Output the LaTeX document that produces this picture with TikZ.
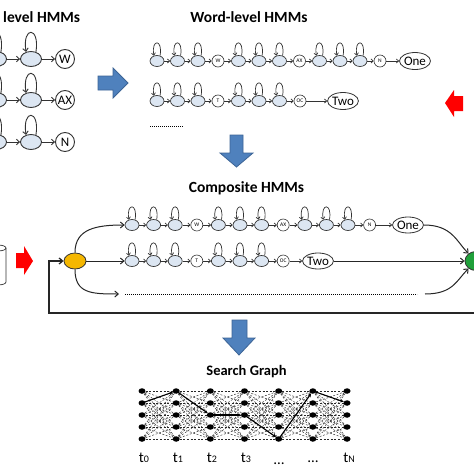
\documentclass[tikz,border=0pt]{standalone}
\usepackage{fontspec}
\setmainfont{Carlito}
\usetikzlibrary{arrows.meta,shapes.geometric}
\definecolor{stfill}{HTML}{DCE6F2}
\definecolor{stline}{HTML}{333333}
\definecolor{bluefill}{HTML}{4F81BD}
\definecolor{blueline}{HTML}{3C6496}
\definecolor{yelfill}{HTML}{F5B700}
\definecolor{grnfill}{HTML}{1FA03A}
\pgfdeclarelayer{bg}
\pgfsetlayers{bg,main}
\newcommand{\tlab}[1]{t\raisebox{-0.6pt}{\fontsize{10}{10}\selectfont #1}}
\begin{document}
\begin{tikzpicture}[x=1pt,y=-1pt,
  st/.style={ellipse,draw=stline,fill=stfill,line width=0.7pt,minimum width=14pt,minimum height=11pt,inner sep=0pt},
  stbig/.style={st,minimum width=21pt,minimum height=15pt,line width=0.9pt},
  ph/.style={circle,draw=stline,fill=white,line width=0.6pt,minimum size=12pt,inner sep=0pt,font=\fontsize{5.5}{5.5}\selectfont},
  phbig/.style={ph,minimum size=19pt,line width=0.9pt,font=\fontsize{13}{13}\selectfont},
  wd/.style={ellipse,draw=stline,fill=white,line width=0.8pt,minimum width=30pt,minimum height=17pt,inner sep=0pt,font=\fontsize{13}{13}\selectfont},
  arr/.style={draw=stline,line width=0.7pt,-{Straight Barb[length=2.2pt,width=4pt]}},
  arrbig/.style={arr,line width=0.9pt,-{Straight Barb[length=3pt,width=5.5pt]}},
  carr/.style={draw=black!85,line width=1pt,-{Straight Barb[length=3.5pt,width=6pt]}},
  dotline/.style={draw=black,line width=1pt,dash pattern=on 0.9pt off 1.1pt},
  title/.style={font=\fontsize{15.5}{15.5}\selectfont\bfseries,inner sep=0pt,anchor=base},
  blk/.style={fill=bluefill,draw=blueline,line width=0.8pt},
  redblk/.style={fill=red,draw=none},
  gdot/.style={ellipse,fill=black,minimum width=7pt,minimum height=5.5pt,inner sep=0pt},
  gdash/.style={draw=black!85,line width=0.45pt,dash pattern=on 2pt off 1.6pt},
  gpath/.style={draw=black,line width=1.1pt,-{Stealth[length=3.5pt,width=3.5pt]}},
  tl/.style={font=\fontsize{15}{15}\selectfont,anchor=base,inner sep=0pt}
]
\useasboundingbox (0,0) rectangle (474,474);
\begin{pgfonlayer}{bg}
\fill[white] (0,0) rectangle (474,474);
\end{pgfonlayer}

% ---------- titles ----------
\node[title,anchor=base west] (t1) at (3,22) {level HMMs};
\node[title] (t2) at (249,22) {Word-level HMMs};
\node[title] (t3) at (246.5,192) {Composite HMMs};
\node[title,font=\fontsize{14.5}{14.5}\selectfont\bfseries] (t4) at (246.5,375) {Search Graph};

% ---------- phone-level HMMs ----------
\foreach \q/\y/\l in {1/59/W,2/100/AX,3/142/N}{
  \node[stbig] (p\q a) at (-4,\y) {};
  \node[stbig] (p\q b) at (31,\y) {};
  \node[phbig] (p\q c) at (65,\y) {\l};
  \draw[arrbig] (p\q a) -- (p\q b);
  \draw[arrbig] (p\q b) -- (p\q c);
  \draw[arrbig] (p\q a.55) .. controls +(4,-26) and +(-4,-26) .. (p\q a.125);
  \draw[arrbig] (p\q b.55) .. controls +(4,-26) and +(-4,-26) .. (p\q b.125);
}

% ---------- block arrows ----------
\draw[blk] (98,76) -- (113,76) -- (113,68) -- (128,83) -- (113,98) -- (113,90) -- (98,90) -- cycle;
\draw[blk] (230,135) -- (243,135) -- (243,153) -- (253,153) -- (236.5,167) -- (220,153) -- (230,153) -- cycle;
\draw[blk] (232,320) -- (247,320) -- (247,338) -- (255,338) -- (239,355) -- (223,338) -- (232,338) -- cycle;
\fill[redblk] (463,96) -- (454,96) -- (454,90) -- (445,103) -- (454,117) -- (454,111) -- (463,111) -- cycle;
\fill[redblk] (16,253) -- (24,253) -- (24,246) -- (33,261) -- (24,275) -- (24,268) -- (16,268) -- cycle;

% ---------- word-level HMMs ----------
\foreach \x/\n in {157/1,177.5/2,198/3,238.5/5,259/6,279.5/7,319.5/9,340/10,360/11}
  \node[st] (a\n) at (\x,61) {};
\node[ph] (a4) at (218,61) {W};
\node[ph] (a8) at (299.5,61) {AX};
\node[ph] (a12) at (380,61) {N};
\node[wd] (a13) at (415,61) {One};
\foreach \i [count=\j from 2] in {1,...,12} \draw[arr] (a\i) -- (a\j);
\foreach \n in {1,2,3,5,6,7,9,10,11}
  \draw[arr] (a\n.60) .. controls +(3,-17) and +(-3,-17) .. (a\n.120);

\foreach \x/\n in {157/1,177.5/2,198/3,238.5/5,259/6,279.5/7}
  \node[st] (b\n) at (\x,101) {};
\node[ph] (b4) at (218,101) {T};
\node[ph] (b8) at (300,101) {OC};
\node[wd] (b9) at (343,101) {Two};
\foreach \i [count=\j from 2] in {1,...,8} \draw[arr] (b\i) -- (b\j);
\foreach \n in {1,2,3,5,6,7}
  \draw[arr] (b\n.60) .. controls +(3,-17) and +(-3,-17) .. (b\n.120);

\coordinate (wdA) at (150,126);
\coordinate (wdB) at (183,126);
\draw[dotline] (wdA) -- (wdB);

% ---------- composite HMMs ----------
\foreach \k/\n in {0/1,1/2,2/3,4/5,5/6,6/7,8/9,9/10,10/11}
  \node[st] (c\n) at ({132+21.6*\k},225) {};
\node[ph] (c4) at ({132+21.6*3},225) {W};
\node[ph] (c8) at ({132+21.6*7},225) {AX};
\node[ph] (c12) at ({132+21.6*11},225) {N};
\node[wd,minimum width=29pt,minimum height=16pt] (c13) at (408,225) {One};
\foreach \i [count=\j from 2] in {1,...,12} \draw[arr] (c\i) -- (c\j);
\foreach \n in {1,2,3,5,6,7,9,10,11}
  \draw[arr] (c\n.60) .. controls +(3,-17) and +(-3,-17) .. (c\n.120);

\foreach \k/\n in {0/1,1/2,2/3,4/5,5/6,6/7}
  \node[st] (d\n) at ({132+21.6*\k},261) {};
\node[ph] (d4) at ({132+21.6*3},261) {T};
\node[ph] (d8) at ({132+21.6*7},261) {OC};
\node[wd,minimum width=29pt,minimum height=16pt] (d9) at (318,261) {Two};
\foreach \i [count=\j from 2] in {1,...,8} \draw[arr] (d\i) -- (d\j);
\foreach \n in {1,2,3,5,6,7}
  \draw[arr] (d\n.60) .. controls +(3,-17) and +(-3,-17) .. (d\n.120);

\node[ellipse,draw=stline,fill=yelfill,line width=0.8pt,minimum width=22pt,minimum height=16pt,inner sep=0pt] (Y) at (75,261) {};
\node[ellipse,draw=stline,fill=grnfill,line width=0.8pt,minimum width=22pt,minimum height=19pt,inner sep=0pt] (G) at (476,261) {};

\coordinate (dotArr) at (119,294);
\coordinate (dotA) at (125,294);
\coordinate (dotB) at (417,294);
\coordinate (dotC) at (425,294);
\coordinate (fbL) at (49,313);

\draw[carr] (Y.north) .. controls +(0,-24) and +(-28,0) .. (c1.west);
\draw[carr] (Y.east) -- (d1.west);
\draw[carr] (Y.south) .. controls +(0,24) and +(-28,0) .. (dotArr);
\draw[dotline] (dotA) -- (dotB);
\draw[carr] (c13.east) .. controls +(28,0) and +(-12,-12) .. (G.135);
\draw[carr] (d9.east) -- (G.west);
\draw[carr] (dotC) .. controls +(28,0) and +(-12,12) .. (G.225);
\draw[carr,line width=1.3pt] (G.south) |- (fbL) |- (Y.west);

% database cylinder (cut at left edge)
\draw[fill=white,draw=stline,line width=0.7pt] (-10,248) -- (-10,282) arc[start angle=180,end angle=360,x radius=8pt,y radius=3pt] -- (6,248);
\draw[draw=stline,line width=0.7pt] (-2,248) ellipse [x radius=8pt,y radius=3pt];

% ---------- search graph ----------
\foreach \i in {0,...,6}
  \foreach \j in {0,...,4}
    \node[gdot] (s\i\j) at ({142+34.17*\i},{391+12*\j}) {};
\begin{pgfonlayer}{bg}
\foreach \i [count=\k from 1] in {0,...,5}
  \foreach \j in {0,...,4}
    \foreach \m in {0,...,4}
      \draw[gdash] (s\i\j.center) -- (s\k\m.center);
\end{pgfonlayer}
\foreach \a/\b in {s01/s10,s10/s22,s22/s32,s32/s44,s44/s50,s50/s61}
  \draw[gpath] (\a.center) -- (\b);

\node[tl] (l0) at (144,462) {\tlab{0}};
\node[tl] (l1) at (178,462) {\tlab{1}};
\node[tl] (l2) at (212,462) {\tlab{2}};
\node[tl] (l3) at (246,462) {\tlab{3}};
\node[tl] (l4) at (279,464) {\dots};
\node[tl] (l5) at (313,462) {\dots};
\node[tl] (l6) at (349,462) {\tlab{N}};
\end{tikzpicture}
\end{document}
